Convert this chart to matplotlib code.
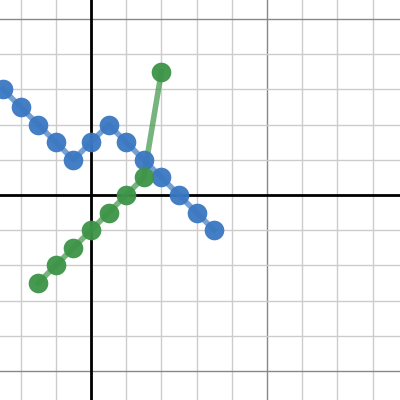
import numpy as np
import matplotlib.pyplot as plt

blue_x = [-2.5, -2, -1.5, -1, -0.5, 0, 0.5, 1, 1.5, 2, 2.5, 3, 3.5]
blue_y = [3, 2.5, 2, 1.5, 1, 1.5, 2, 1.5, 1, 0.5, 0, -0.5, -1]
green_x = [-1.5, -1, -0.5, 0, 0.5, 1, 1.5, 2]
green_y = [-2.5, -2, -1.5, -1, -0.5, 0, 0.5, 3.5]

fig = plt.figure(figsize=(4, 4), dpi=100)
ax = fig.add_axes([0, 0, 1, 1])
ax.set_xlim(-2.585, 8.78)
ax.set_ylim(-5.824, 5.54)

for v in np.arange(-2, 9):
    ax.axvline(v, color='#888' if v % 5 == 0 else '#ccc', lw=1, zorder=0)
for v in np.arange(-5, 6):
    ax.axhline(v, color='#888' if v % 5 == 0 else '#ccc', lw=1, zorder=0)
ax.axvline(0, color='black', lw=2, zorder=1)
ax.axhline(0, color='black', lw=2, zorder=1)

ax.plot(blue_x, blue_y, color='#3a78c2', lw=4, alpha=0.7, zorder=2)
ax.scatter(blue_x, blue_y, s=200, color='#3a78c2', alpha=0.95, zorder=3, linewidths=0)
ax.plot(green_x, green_y, color='#3d9447', lw=4, alpha=0.7, zorder=2)
ax.scatter(green_x, green_y, s=200, color='#3d9447', alpha=0.95, zorder=3, linewidths=0)

ax.set_xticks([])
ax.set_yticks([])
for s in ax.spines.values():
    s.set_visible(False)
fig.savefig('out.png', dpi=100)
